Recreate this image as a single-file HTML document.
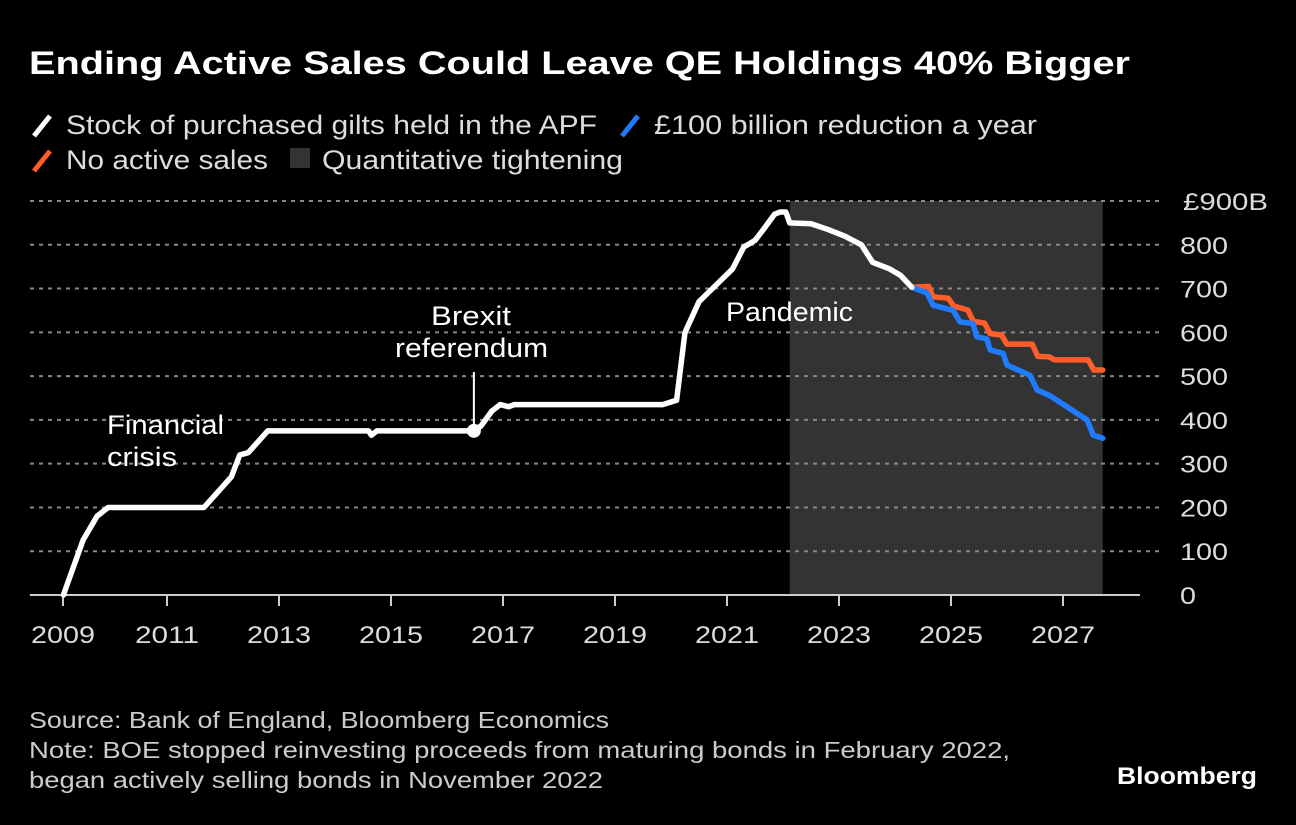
<!DOCTYPE html>
<html><head><meta charset="utf-8"><style>
body{margin:0;background:#000;width:1296px;height:820px;overflow:hidden;font-family:"Liberation Sans","DejaVu Sans",sans-serif;color:#fff}
</style></head><body>
<svg width="1296" height="820" xmlns="http://www.w3.org/2000/svg">
<text x="29" y="74" font-size="32" font-weight="bold" fill="#fff" textLength="1101" lengthAdjust="spacingAndGlyphs">Ending Active Sales Could Leave QE Holdings 40% Bigger</text>
<g font-size="27" fill="#ddd">
<g><line x1="34" y1="136" x2="50" y2="116" stroke="#fff" stroke-width="5"/><text x="66" y="134" textLength="531" lengthAdjust="spacingAndGlyphs">Stock of purchased gilts held in the APF</text></g>
<g><line x1="622" y1="136" x2="638" y2="116" stroke="#1f7cff" stroke-width="5"/><text x="654" y="134" textLength="383" lengthAdjust="spacingAndGlyphs">£100 billion reduction a year</text></g>
<g><line x1="34" y1="171" x2="50" y2="151" stroke="#ff5d2a" stroke-width="5"/><text x="66" y="169" textLength="202" lengthAdjust="spacingAndGlyphs">No active sales</text></g>
<g><rect x="290" y="148" width="20" height="20" fill="#333"/><text x="322" y="169" textLength="301" lengthAdjust="spacingAndGlyphs">Quantitative tightening</text></g>
</g>
<g id="plot"></g>
<text x="29" y="728" font-size="23" fill="#ccc" textLength="580" lengthAdjust="spacingAndGlyphs">Source: Bank of England, Bloomberg Economics</text>
<text x="29" y="758" font-size="23" fill="#ccc" textLength="981" lengthAdjust="spacingAndGlyphs">Note: BOE stopped reinvesting proceeds from maturing bonds in February 2022,</text>
<text x="29" y="788" font-size="23" fill="#ccc" textLength="574" lengthAdjust="spacingAndGlyphs">began actively selling bonds in November 2022</text>
<text x="1117" y="784" font-size="24" font-weight="bold" fill="#fff" textLength="140" lengthAdjust="spacingAndGlyphs">Bloomberg</text>
</svg>
<script>
const yTicks=[0,100,200,300,400,500,600,700,800,900];
const yTickLabels=["0","100","200","300","400","500","600","700","800","£900B"];
const xTicks=[2009,2011,2013,2015,2017,2019,2021,2023,2025,2027];
const qtStart=2022.12, qtEnd=2027.71;
const stockYears=[2009.15,2009.5,2009.75,2009.95,2011.66,2012.15,2012.3,2012.45,2012.8,2014.6,2014.65,2014.75,2016.4,2016.6,2016.8,2016.95,2017.1,2017.2,2019.85,2020.1,2020.25,2020.5,2020.9,2021.1,2021.3,2021.5,2021.65,2021.85,2021.95,2022.05,2022.12,2022.5,2022.8,2023.1,2023.4,2023.6,2023.9,2024.1,2024.3];
const stockValues=[0,125,180,200,200,270,320,325,375,375,365,375,375,385,420,435,430,435,435,445,600,670,720,745,795,810,835,870,875,875,850,848,835,820,800,760,745,730,703];
const noSalesYears=[2024.3,2024.6,2024.68,2024.95,2025.05,2025.3,2025.4,2025.6,2025.7,2025.9,2026.0,2026.45,2026.55,2026.75,2026.85,2027.45,2027.55,2027.71];
const noSalesValues=[703,705,681,678,660,651,625,621,597,594,573,573,545,544,537,537,514,514];
const cutYears=[2024.3,2024.57,2024.68,2025.04,2025.16,2025.39,2025.46,2025.64,2025.7,2025.93,2026.0,2026.41,2026.54,2026.77,2027.43,2027.54,2027.71];
const cutValues=[703,690,662,650,624,620,590,585,560,552,525,502,468,455,400,365,358];
const brexitYear=2016.48, brexitValue=375;
const X=y=>167+(y-2011)*56;
const Y=v=>595-v*394/900;
const NS='http://www.w3.org/2000/svg';
const g=document.getElementById('plot');
function mk(t,a){const e=document.createElementNS(NS,t);for(const k in a)e.setAttribute(k,a[k]);g.appendChild(e);return e;}
let e=mk('rect',{x:X(qtStart),y:Y(900),width:X(qtEnd)-X(qtStart),height:Y(0)-Y(900),fill:'#333'});


yTicks.forEach((v,i)=>{
 if(v>0){const l=mk('line',{x1:30,x2:1160,y1:Y(v),y2:Y(v),stroke:'#888','stroke-width':2,'stroke-dasharray':'4 5'});
 
 }
 const lab=yTickLabels[i];
 const t=mk('text',{x:lab.length>3?1183:1180,y:Y(v)+9,'font-size':24,fill:'#ddd',textLength:lab.length>3?85:lab.length*16,lengthAdjust:'spacingAndGlyphs'});t.textContent=lab;
 
 
});
e=mk('line',{x1:30,x2:1140,y1:Y(0),y2:Y(0),stroke:'#ccc','stroke-width':2});


xTicks.forEach(yr=>{
 const xx=yr==2009?63:X(yr);
 const l=mk('line',{x1:xx,x2:xx,y1:Y(0),y2:Y(0)+11,stroke:'#ccc','stroke-width':2});
 
 
 const t=mk('text',{x:xx-32,y:Y(0)+48,'font-size':24,fill:'#ddd',textLength:64,lengthAdjust:'spacingAndGlyphs'});t.textContent=yr;
 
 
});
function line(xs,vs,col,name){
 const p=mk('polyline',{points:xs.map((x,i)=>X(x)+','+Y(vs[i])).join(' '),fill:'none',stroke:col,'stroke-width':5.5,'stroke-linejoin':'round','stroke-linecap':'round'});
 
 
}
line(noSalesYears,noSalesValues,'#ff5d2a','no-active-sales-line');
line(cutYears,cutValues,'#1f7cff','reduction-line');
line(stockYears,stockValues,'#fff','stock-line');
e=mk('line',{x1:X(brexitYear),x2:X(brexitYear),y1:372,y2:Y(brexitValue),stroke:'#fff','stroke-width':2});


e=mk('circle',{cx:X(brexitYear),cy:Y(brexitValue),r:7,fill:'#fff'});


[['Brexit',431,325,80,'brexit-label-1'],['referendum',395,357,153,'brexit-label-2'],['Financial',107,434,117,'financial-label-1'],['crisis',107,466,70,'financial-label-2'],['Pandemic',726,321,127,'pandemic-label']].forEach(a=>{
 const t=mk('text',{x:a[1],y:a[2],'font-size':27,fill:'#fff',textLength:a[3],lengthAdjust:'spacingAndGlyphs'});
 t.textContent=a[0];
 
 
});
</script>
</body></html>
